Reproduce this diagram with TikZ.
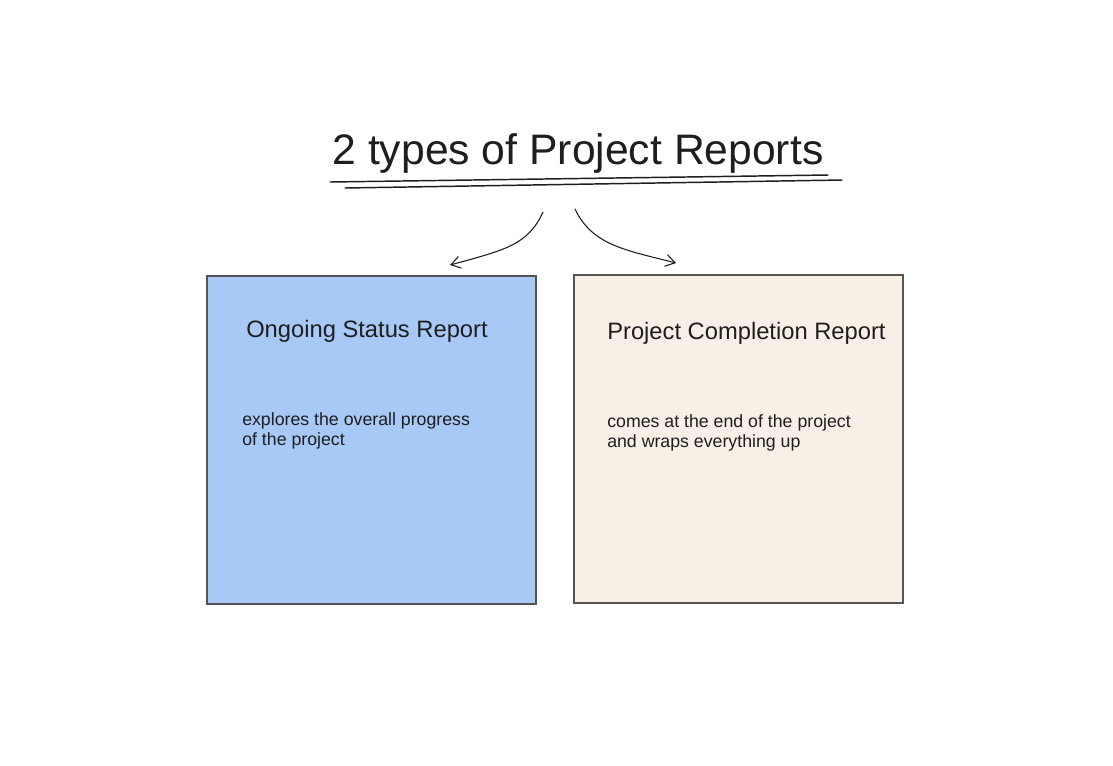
\documentclass[tikz,border=0pt]{standalone}
\usepackage{fontspec}
\setmainfont{Liberation Sans}
\usetikzlibrary{arrows.meta}
\definecolor{blueF}{RGB}{168,200,246}
\definecolor{beigeF}{RGB}{248,240,230}
\definecolor{ink}{RGB}{30,30,30}
\definecolor{edge}{RGB}{85,85,85}
\tikzset{
  card/.style={draw=edge, line width=1.1pt, inner sep=0pt, outer sep=0pt, anchor=north west,
    minimum width=246.75pt, minimum height=246pt},
  cardtitle/.style={anchor=west, text=ink, font=\fontsize{17.8}{21}\selectfont, inner sep=0pt},
  cardbody/.style={anchor=north west, text=ink, align=left, font=\fontsize{13.3}{15}\selectfont, inner sep=0pt},
  rule/.style={draw=ink, line width=1.1pt, line cap=round},
  flow/.style={draw=ink, line width=0.8pt, line cap=round, -{Straight Barb[length=7pt,width=9pt]}}
}
\begin{document}
\begin{tikzpicture}[x=0.75pt,y=-0.75pt]
\useasboundingbox (0,0) rectangle (1113,765);
\fill[white] (0,0) rectangle (1113,765);
% title
\node[text=ink, font=\fontsize{32}{38}\selectfont, inner sep=0pt] (title) at (578,153) {2 types of Project Reports};
\coordinate (u1a) at (330,182);
\coordinate (u1b) at (828,175);
\coordinate (u2a) at (345,188);
\coordinate (u2b) at (842,180);
\draw[rule] (u1a) -- (u1b);
\draw[rule] (u2a) -- (u2b);
% cards
\node[card, fill=blueF] (ongoing) at (207,276) {};
\node[card, fill=beigeF] (completion) at (574,275) {};
\node[cardtitle] (ongoingT) at (246,331) {Ongoing Status Report};
\node[cardtitle] (completionT) at (607,333) {Project Completion Report};
\node[cardbody] (ongoingB) at (242,412) {explores the overall progress\\of the project};
\node[cardbody] (completionB) at (607,414) {comes at the end of the project\\and wraps everything up};
% arrows
\coordinate (s1) at (543,212);
\coordinate (e1) at (450,265);
\coordinate (s2) at (575,209);
\coordinate (e2) at (676,263);
\draw[flow] (s1) .. controls (528,245) and (505,250) .. (e1);
\draw[flow] (s2) .. controls (592,245) and (625,250) .. (e2);
\end{tikzpicture}
\end{document}
